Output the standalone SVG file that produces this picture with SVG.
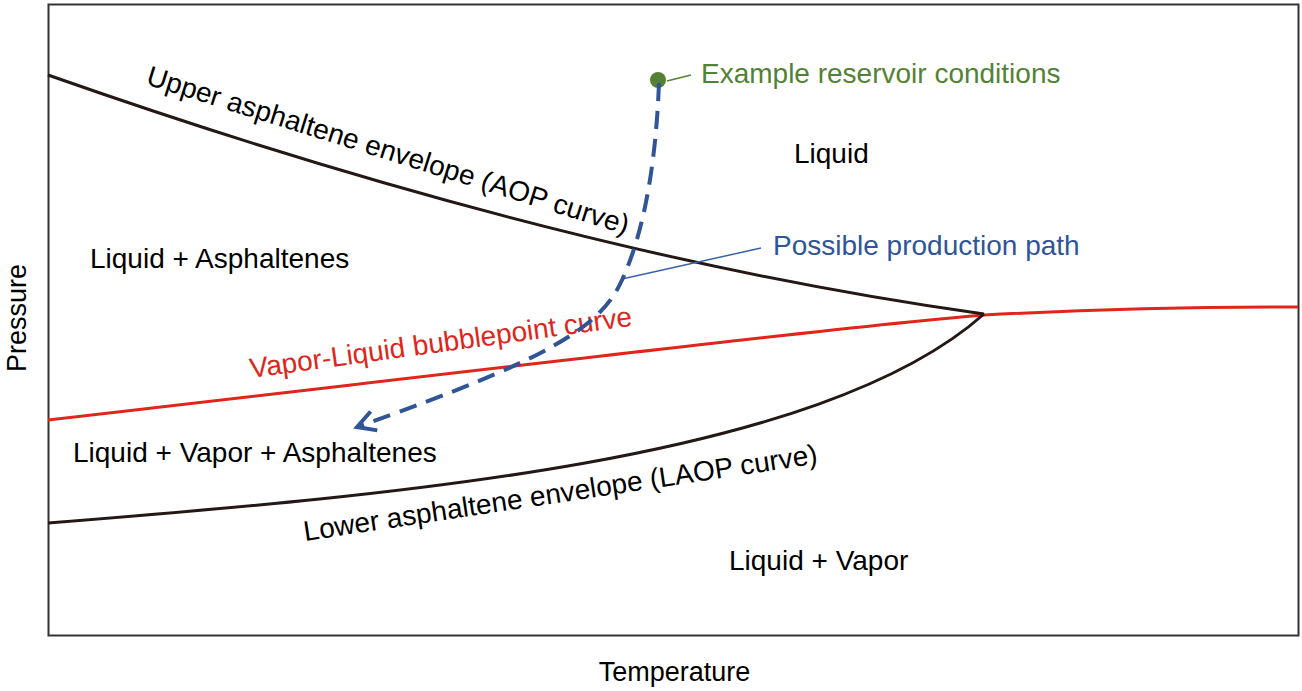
<svg xmlns="http://www.w3.org/2000/svg" width="1302" height="691" viewBox="0 0 1302 691">
  <style>
    text { font-family: "Liberation Sans", Arial, sans-serif; font-size: 28px; fill: #000; }
    .axis { font-size: 27px; }
    .red { fill: #e0251b; }
    .blue { fill: #2f5597; }
    .green { fill: #548235; }
    .curve { fill: none; stroke-width: 3; }
  </style>
  <defs>
    <marker id="openArrow" markerUnits="userSpaceOnUse" viewBox="-22 -14 26 28" markerWidth="26" markerHeight="28" refX="0" refY="0" orient="auto" overflow="visible">
      <path d="M-18,-10 L0,0 L-18,10" fill="none" stroke="#2f5597" stroke-width="4" stroke-linejoin="miter" stroke-linecap="butt"/>
    </marker>
  </defs>
  <rect width="1302" height="691" fill="#fff"/>
  <g id="frame">
    <rect x="48.5" y="4.5" width="1250" height="631" fill="none" stroke="#333" stroke-width="2"/>
  </g>
  <g id="labels">
    <text x="90" y="268">Liquid + Asphaltenes</text>
    <text x="794" y="163">Liquid</text>
    <text x="73" y="462">Liquid + Vapor + Asphaltenes</text>
    <text x="729" y="570">Liquid + Vapor</text>
    <text x="145" y="84" transform="rotate(17.4 145 84)">Upper asphaltene envelope (AOP curve)</text>
    <text x="305" y="541" transform="rotate(-8.6 305 541)">Lower asphaltene envelope (LAOP curve)</text>
    <text class="red" x="251" y="378" transform="rotate(-7.8 251 378)">Vapor-Liquid bubblepoint curve</text>
    <text class="blue" x="773" y="255">Possible production path</text>
    <text class="green" x="701" y="83">Example reservoir conditions</text>
    <text class="axis" x="674.5" y="681" text-anchor="middle">Temperature</text>
    <text class="axis" x="26" y="318" text-anchor="middle" transform="rotate(-90 26 318)">Pressure</text>
  </g>
  <g id="curves">
    <path id="bubblepoint" class="curve" stroke="#e0251b" d="M48,420 C500,368 850,326 984,315 C1100,309 1200,307 1298,307"/>
    <path id="aop" class="curve" stroke="#231815" d="M48,75 Q560,255 984,314"/>
    <path id="laop" class="curve" stroke="#231815" d="M984,314 C820,460 400,495 48,523"/>
  </g>
  <g id="connectors">
    <line x1="667" y1="81" x2="691" y2="75" stroke="#548235" stroke-width="1.5"/>
    <line x1="622" y1="279" x2="761" y2="248" stroke="#3a62a8" stroke-width="1.5"/>
    <circle id="reservoir-point" cx="658" cy="80" r="8" fill="#548235"/>
    <path id="production-path" d="M659,83 C656,160 645,230 622,280 C600,330 540,362 357,427" fill="none" stroke="#2f5597" stroke-width="4" stroke-dasharray="18 10" marker-end="url(#openArrow)"/>
  </g>
</svg>
